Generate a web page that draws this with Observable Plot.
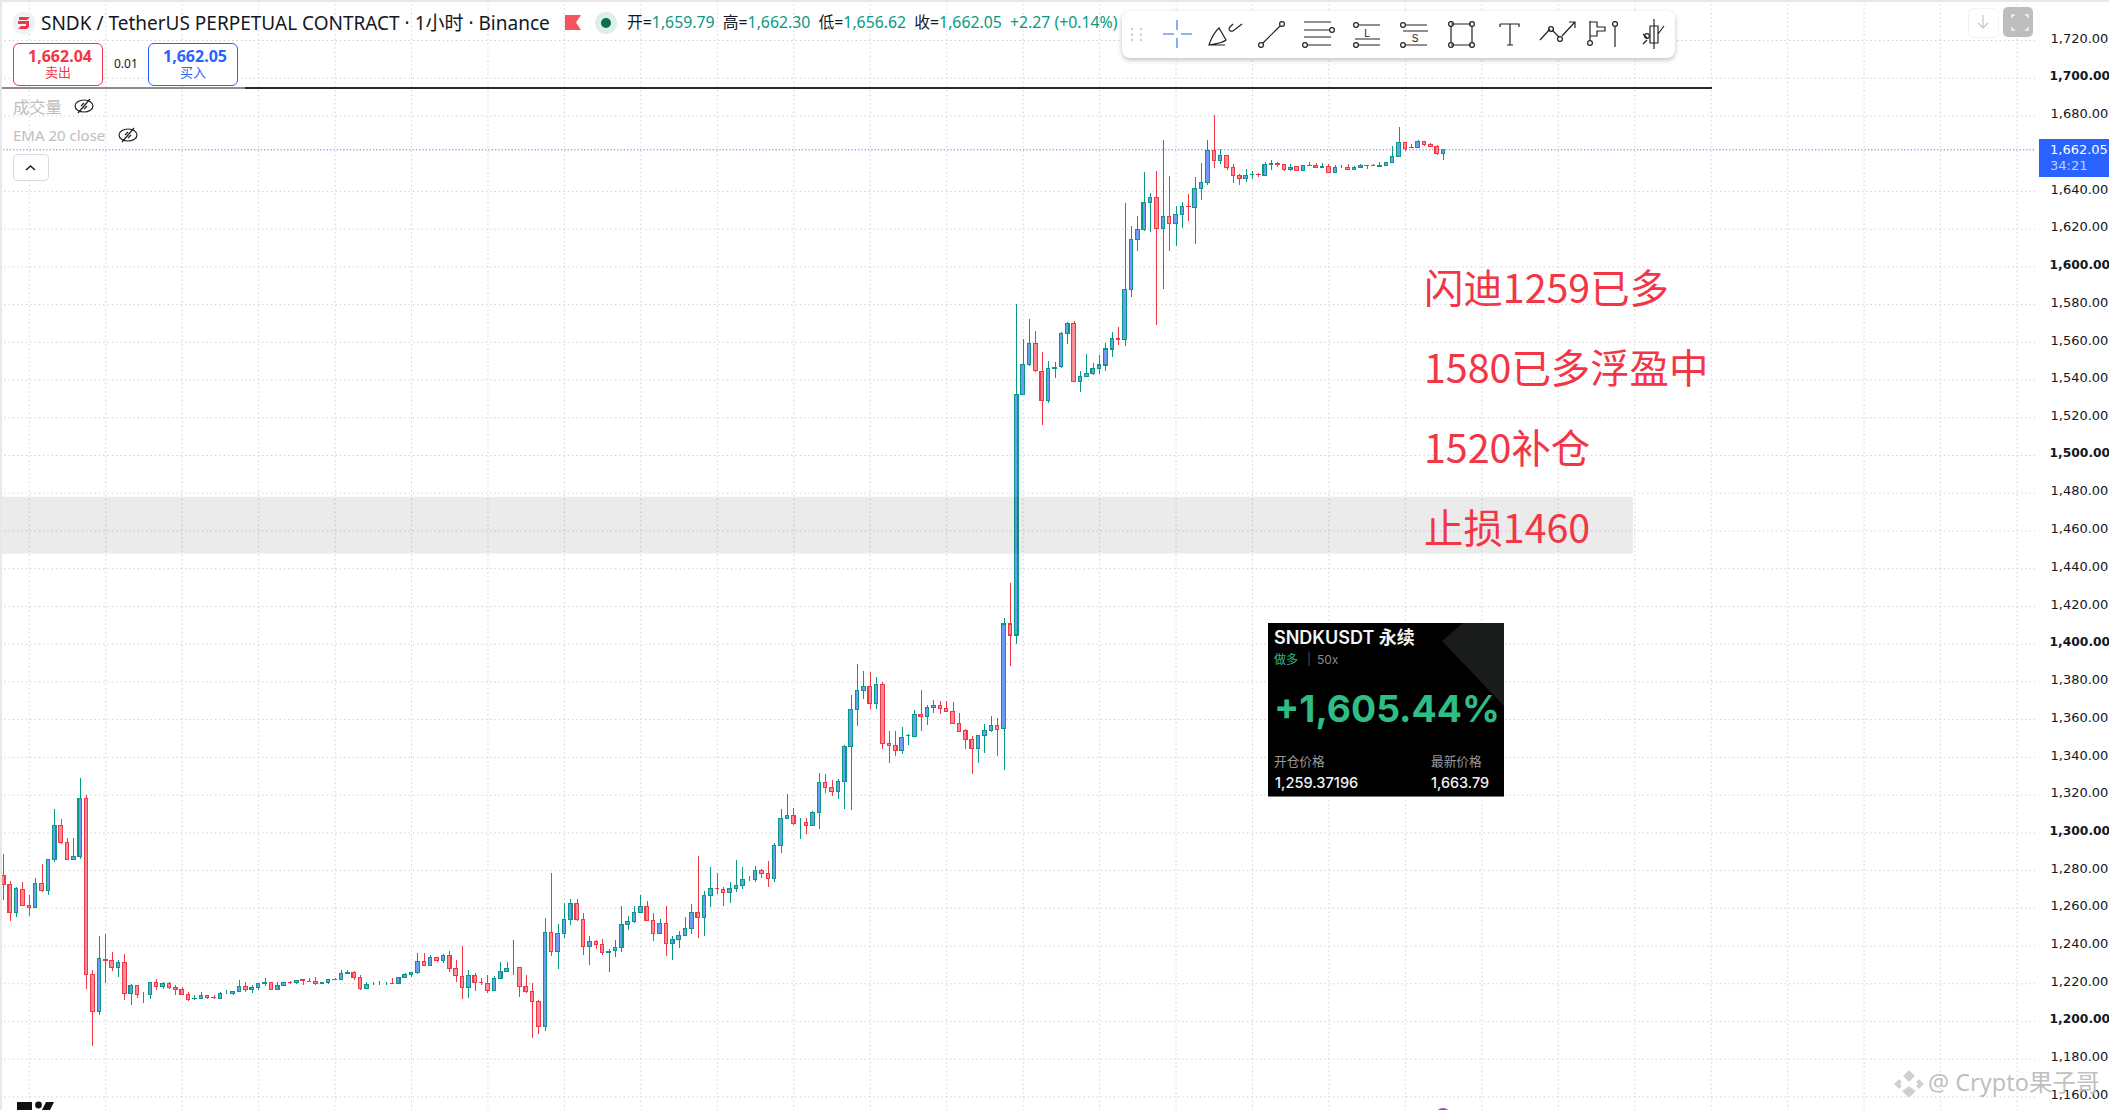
<!DOCTYPE html>
<html lang="zh">
<head>
<meta charset="utf-8">
<script src="https://cdn.jsdelivr.net/npm/d3@7"></script>
<script src="https://cdn.jsdelivr.net/npm/@observablehq/plot@0.6"></script>
<style>
html,body{margin:0;padding:0;background:#fff;width:2109px;height:1110px;overflow:hidden}
#chart,#ui,.t{position:absolute}
#chart{left:0;top:0}
#ui{left:0;top:0;width:2109px;height:1110px;pointer-events:none}
.t{white-space:nowrap;font-family:"Noto Sans","Noto Sans CJK SC",sans-serif;line-height:1}
.note{font-family:"Noto Sans CJK SC",sans-serif;font-size:39.4px;color:#f23645}
</style>
</head>
<body>
<div id="chart"></div>
<div id="ui"></div>
<script>
const opens=[1276.9,1272.3,1257.5,1269.6,1261.2,1260.1,1272.8,1269.1,1285.6,1303.6,
1294.6,1285.6,1287.1,1317.9,1224.6,1205.0,1232.5,1232.0,1228.3,1231.0,
1214.5,1218.8,1214.0,1214.0,1220.4,1218.2,1219.8,1217.7,1216.6,1214.0,
1211.7,1211.9,1213.5,1212.6,1211.9,1214.5,1214.5,1215.6,1218.2,1216.6,
1217.7,1220.0,1220.4,1216.6,1218.8,1220.5,1220.4,1221.8,1220.9,1220.9,
1219.8,1220.4,1221.9,1221.9,1225.1,
1225.8,1223.1,1217.3,1219.9,1219.9,1219.9,1219.9,1219.9,1223.1,1224.7,
1225.8,1231.6,1229.5,1233.7,1232.1,1234.8,1227.9,1223.6,1217.8,1224.2,
1220.6,1219.9,1216.2,1222.6,1226.3,1228.4,1228.4,1218.3,1215.7,1210.4,
1197.1,1247.0,1236.9,1246.4,1253.8,1262.3,1253.8,1239.5,1242.2,1240.6,
1236.5,1237.4,1239.0,1251.2,1252.8,1257.6,1260.7,1253.3,1246.4,1251.7,
1241.1,1243.3,1245.4,1249.1,1257.6,
1254.9,1266.6,1270.4,1269.7,1268.2,1270.3,1271.9,1275.0,1275.0,1279.8,
1278.2,1275.6,1293.1,1307.4,1309.0,1305.3,1305.3,1303.7,1310.6,1326.5,
1323.8,1321.7,1327.0,1345.5,1365.2,1375.2,1377.3,1368.3,1378.4,1347.1,
1346.1,1343.4,1351.2,1350.8,1362.5,1361.4,1366.2,1367.3,1365.7,1364.1,
1357.7,1354.0,1349.3,1344.5,1351.4,1354.0,1356.7,1355.1,1410.4,1404.6,
1532.3,1548.2,1559.3,1544.5,1529.1,1546.1,1547.1,1564.6,1569.9,1539.2,
1541.8,1543.4,1546.1,1547.7,1556.2,1562.0,1561.4,1587.8,1614.3,1619.6,
1633.9,1636.6,1620.1,1626.5,1622.8,1627.6,1631.8,1631.3,1641.4,1644.5,
1661.5,1656.2,1658.8,1652.5,1648.2,1646.7,1648.7,1648.6,1648.2,1654.1,
1654.6,1654.1,1651.4,1653.0,1650.9,1653.5,1653.5,1652.5,1653.0,1649.8,
1652.5,1652.5,1651.4,1652.5,1653.5,1653.5,1653.0,1653.5,1655.1,1658.3,
1665.7,1662.9,1663.1,1666.3,1664.7,1663.6,1659.79];
const closes=[1272.3,1257.5,1270.2,1261.2,1260.1,1272.8,1269.1,1285.6,1303.6,1294.6,
1285.6,1287.1,1317.9,1224.6,1205.0,1233.1,1232.0,1228.3,1231.0,1214.5,
1218.8,1214.0,1214.0,1220.4,1218.2,1219.8,1217.7,1216.6,1214.0,1211.3,
1211.9,1213.5,1212.4,1212.4,1214.5,1214.5,1215.6,1218.2,1216.6,1217.7,
1219.8,1220.4,1216.6,1218.8,1220.4,1220.4,1221.4,1221.6,1220.7,1219.8,
1220.4,1221.9,1221.8,1225.1,1225.7,
1223.1,1217.3,1219.4,1219.9,1219.9,1219.9,1219.8,1223.1,1224.7,1225.8,
1231.6,1229.5,1233.7,1232.1,1234.8,1227.9,1224.2,1217.8,1224.2,1220.5,
1220.5,1216.2,1222.6,1226.3,1227.9,1228.4,1218.3,1215.7,1210.4,1197.1,
1247.0,1236.9,1246.4,1253.8,1262.3,1253.8,1239.5,1242.2,1240.6,1236.4,
1236.7,1239.0,1251.2,1252.8,1257.6,1260.7,1253.3,1246.4,1251.7,1241.1,
1243.3,1245.4,1249.1,1257.6,1254.9,
1266.6,1270.3,1270.3,1268.2,1270.3,1271.9,1275.0,1275.0,1279.8,1278.2,
1275.6,1293.1,1307.4,1309.0,1304.7,1305.3,1303.7,1310.6,1326.5,1323.8,
1321.7,1327.0,1345.5,1365.2,1375.2,1377.3,1368.3,1378.4,1347.1,1346.1,
1343.4,1350.3,1351.4,1362.5,1361.4,1366.2,1367.3,1365.7,1364.1,1357.7,
1353.5,1349.3,1344.5,1351.4,1354.0,1356.7,1354.6,1410.4,1404.6,1532.3,
1548.2,1559.3,1545.0,1529.1,1546.1,1546.4,1564.6,1569.9,1539.2,1541.8,
1543.4,1546.1,1547.7,1556.2,1562.0,1561.4,1587.8,1614.3,1619.6,1633.9,
1636.6,1620.1,1626.5,1622.8,1627.6,1631.8,1631.6,1641.4,1644.5,1661.5,
1656.2,1658.8,1652.5,1648.2,1646.7,1648.2,1648.8,1648.5,1654.1,1654.6,
1654.1,1651.4,1652.5,1650.9,1653.5,1653.4,1652.5,1652.8,1649.8,1652.5,
1652.5,1651.4,1652.5,1653.5,1653.4,1653.4,1653.5,1655.1,1658.3,1665.7,
1662.6,1663.1,1666.3,1664.7,1663.6,1659.9,1662.05];
const highs=[1288.7,1274.4,1271.2,1273.4,1267.0,1276.0,1283.1,1286.1,1312.1,1306.8,
1297.2,1297.2,1329.0,1319.6,1227.2,1245.3,1246.3,1236.8,1232.5,1235.7,
1219.8,1219.3,1215.6,1220.4,1222.5,1220.9,1220.9,1218.8,1218.2,1215.6,
1213.5,1215.1,1214.0,1213.5,1215.6,1216.6,1216.1,1221.9,1220.4,1218.8,
1219.8,1223.0,1220.9,1220.4,1220.4,1221.1,1221.4,1222.5,1223.0,1223.5,
1220.9,1222.5,1223.0,1227.2,1227.2,
1226.3,1224.2,1220.5,1220.6,1221.0,1220.6,1222.9,1223.1,1225.2,1225.8,
1235.8,1235.8,1234.8,1233.7,1235.3,1236.9,1232.1,1239.7,1226.8,1225.2,
1222.6,1224.2,1223.6,1231.0,1231.0,1242.7,1228.4,1224.2,1219.9,1210.9,
1254.4,1278.2,1251.2,1262.3,1264.4,1264.4,1257.0,1244.8,1242.7,1243.3,
1238.0,1242.7,1260.7,1255.4,1260.7,1266.6,1263.4,1257.0,1253.8,1260.7,
1244.8,1247.5,1254.9,1261.8,1287.2,
1268.7,1281.4,1278.2,1270.8,1273.4,1285.1,1281.4,1276.6,1281.9,1280.3,
1284.6,1294.1,1312.1,1320.1,1312.7,1307.4,1307.4,1311.1,1331.2,1330.7,
1327.5,1328.1,1346.1,1372.6,1389.0,1385.3,1384.8,1382.1,1379.5,1353.5,
1353.5,1355.6,1351.9,1364.6,1375.2,1367.3,1370.4,1369.4,1369.4,1368.9,
1363.0,1354.5,1350.8,1351.4,1357.2,1361.4,1360.4,1413.6,1432.1,1580.0,
1561.5,1572.1,1565.7,1554.6,1549.8,1549.2,1565.2,1570.5,1571.0,1544.5,
1553.5,1548.7,1553.0,1559.3,1565.2,1567.8,1633.4,1621.2,1626.5,1649.8,
1638.7,1650.4,1666.8,1647.7,1631.8,1633.9,1638.2,1647.2,1654.6,1666.8,
1680.0,1662.0,1658.8,1654.1,1648.8,1651.4,1650.4,1649.7,1655.1,1656.2,
1655.1,1654.1,1654.1,1653.0,1653.5,1655.1,1654.6,1654.6,1654.1,1653.5,
1653.5,1654.1,1653.0,1654.1,1653.5,1654.1,1655.1,1655.1,1663.6,1673.7,
1665.7,1664.7,1666.8,1666.3,1665.2,1664.1,1662.30];
const lows=[1264.0,1253.0,1255.2,1261.2,1255.7,1260.1,1268.4,1266.8,1284.3,1294.0,
1285.6,1285.6,1285.6,1216.8,1186.8,1203.0,1220.2,1226.5,1223.4,1211.0,
1208.5,1212.4,1209.6,1211.7,1216.5,1217.0,1217.2,1213.8,1214.0,1210.6,
1211.2,1211.7,1211.7,1211.7,1211.7,1214.5,1213.8,1215.6,1215.6,1214.9,
1216.5,1218.6,1216.5,1216.5,1218.8,1219.8,1219.8,1219.1,1220.4,1219.1,
1219.8,1219.8,1221.8,1221.9,1225.1,
1221.9,1216.6,1217.1,1218.9,1218.9,1218.9,1219.8,1219.9,1223.1,1223.5,
1225.0,1229.5,1229.5,1231.0,1230.5,1225.8,1220.8,1211.8,1212.3,1216.0,
1218.9,1215.0,1216.2,1222.0,1225.8,1224.3,1212.9,1215.0,1191.1,1193.2,
1194.8,1234.6,1227.7,1244.0,1251.0,1253.1,1235.1,1229.8,1238.3,1235.1,
1226.1,1234.1,1236.7,1248.4,1252.1,1257.6,1253.3,1242.5,1246.4,1234.6,
1232.5,1238.8,1245.4,1246.3,1244.1,
1245.2,1260.6,1267.3,1261.1,1262.7,1268.5,1270.1,1274.0,1273.8,1275.9,
1271.2,1273.8,1289.2,1307.4,1303.7,1296.6,1299.2,1303.7,1301.9,1321.0,
1319.4,1317.8,1312.5,1312.0,1356.5,1370.8,1365.5,1365.5,1344.3,1336.9,
1340.6,1341.7,1346.4,1350.3,1353.8,1357.0,1363.4,1362.9,1363.6,1357.7,
1353.0,1344.3,1331.0,1336.9,1342.2,1353.0,1340.6,1333.2,1388.0,1399.6,
1532.3,1547.0,1543.8,1515.7,1527.4,1540.6,1546.1,1558.8,1538.5,1533.2,
1541.8,1542.2,1542.7,1544.8,1551.7,1558.1,1557.6,1583.8,1608.3,1618.9,
1618.4,1569.1,1588.2,1608.3,1611.0,1620.5,1624.2,1612.0,1635.3,1643.3,
1652.3,1654.4,1650.9,1644.4,1643.1,1644.9,1646.5,1647.5,1648.2,1651.2,
1652.6,1650.7,1650.7,1650.9,1650.9,1653.0,1652.1,1651.9,1649.8,1649.8,
1652.1,1651.1,1651.2,1652.3,1651.8,1653.0,1653.0,1653.5,1655.1,1658.3,
1661.0,1662.6,1663.1,1663.6,1663.1,1658.8,1656.62];

const minorTicks=[1160,1180,1220,1240,1260,1280,1320,1340,1360,1380,1420,1440,1460,1480,1520,1540,1560,1580,1620,1640,1680,1720];
const majorTicks=[1200,1300,1400,1500,1600,1700];
const gridCandles=[4,16,28,40,52,64,76,88,100,112,124,136,148,160,172,184,196,208,220,232,244,256,268,280,292,304,316];
const lastPrice=[1662.05];
const stopBandLow=1447.7, stopBandHigh=1477.9, bandEndCandle=255.8, bandStartCandle=-0.6;
const xDomain=[-0.518,318.9], yDomain=[1152.8,1741.2];

const candles=opens.map((o,i)=>({i,open:o,close:closes[i],high:highs[i],low:lows[i]}));
const up=candles.filter(d=>d.close>=d.open), down=candles.filter(d=>d.close<d.open);
const GREEN="#089981",RED="#f23645",BLUE_FILL="#6c9cf5",PINK_FILL="#f98c95",GRID="#cfcfcf";
const halfBody=0.27;
const body=(data,fill,stroke)=>Plot.rect(data,{x1:d=>d.i-halfBody,x2:d=>d.i+halfBody,y1:"open",y2:"close",fill,stroke,strokeWidth:1.1,shapeRendering:"crispEdges"});
const wick=(data,stroke)=>Plot.ruleX(data,{x:"i",y1:"low",y2:"high",stroke,strokeWidth:1,shapeRendering:"crispEdges"});
const axisOpts={anchor:"right",tickSize:0,tickPadding:15,label:null,tickFormat:d3.format(",.2f"),fontSize:13,fill:"#131722",dy:-2};

const chart=Plot.plot({
  width:2109,height:1110,
  marginTop:0,marginBottom:0,marginLeft:0,marginRight:74,
  x:{domain:xDomain,axis:null},
  y:{domain:yDomain},
  style:{fontFamily:"'DejaVu Sans',sans-serif",background:"transparent",overflow:"hidden"},
  marks:[
    Plot.ruleY([...minorTicks,...majorTicks],{stroke:GRID,strokeDasharray:"1.4 2.9",strokeWidth:1}),
    Plot.ruleX(gridCandles,{stroke:GRID,strokeDasharray:"1.4 2.9",strokeWidth:1}),
    Plot.ruleY(lastPrice,{stroke:"#5b7ff0",strokeDasharray:"1.3 2",strokeWidth:1}),
    wick(up,GREEN),wick(down,RED),
    body(up,BLUE_FILL,GREEN),body(down,PINK_FILL,RED),
    Plot.rect([{}],{x1:()=>bandStartCandle,x2:()=>bandEndCandle,y1:()=>stopBandLow,y2:()=>stopBandHigh,fill:"#000",fillOpacity:0.078}),
    Plot.axisY(minorTicks,axisOpts),
    Plot.axisY(majorTicks,{...axisOpts,fontWeight:"bold",fontSize:12.3,tickPadding:14})
  ]
});
document.getElementById("chart").appendChild(chart);

const ui=document.getElementById("ui");
function T(txt,left,top,css){const s=document.createElement("span");s.className="t";s.innerHTML=txt;s.style.cssText=`left:${left}px;top:${top}px;${css||""}`;ui.appendChild(s);return s;}

ui.insertAdjacentHTML("beforeend",`
<div style="position:absolute;left:0;top:0;width:2109px;height:2px;background:#e8e8e8"></div>
<div style="position:absolute;left:0;top:0;width:2px;height:1110px;background:#e8e8e8"></div>
<div style="position:absolute;left:2px;top:87px;width:1710px;height:2px;background:#2a2a2a"></div>
<div style="position:absolute;left:2px;top:87px;width:243px;height:2px;background:#8c8c8c"></div>
<div style="position:absolute;left:13px;top:43px;width:88px;height:41px;border:1px solid #f23645;border-radius:6px;background:#fff"></div>
<div style="position:absolute;left:148px;top:43px;width:88px;height:41px;border:1px solid #2962ff;border-radius:6px;background:#fff"></div>
<div style="position:absolute;left:13px;top:154px;width:34px;height:25px;border:1px solid #dcdcdc;border-radius:4px;background:#fff"></div>
<div style="position:absolute;left:1122px;top:11px;width:553px;height:47px;border-radius:8px;background:#fff;box-shadow:0 2px 5px rgba(0,0,0,.25)"></div>
<div style="position:absolute;left:1968px;top:8px;width:29px;height:28px;border:1px solid #f3f3f3;border-radius:5px"></div>
<div style="position:absolute;left:2003px;top:7px;width:30px;height:30px;border-radius:5px;background:#bdbdbd"></div>
<div style="position:absolute;left:2039px;top:139px;width:70px;height:38px;background:#2962ff"></div>
`);
ui.insertAdjacentHTML("beforeend",`
<svg style="position:absolute;left:0;top:0" width="2109" height="1110" fill="none" stroke="#222" stroke-width="1.2">
  <circle cx="24" cy="23" r="11.5" fill="#f0f3f5" stroke="none"/>
  <path d="M19 17h11l-3 3h-8zM18 21h11v6l-2 2H18l3-3h5v-2h-8z" fill="#f23645" stroke="none"/>
  <path d="M565 15h16l-5 7.5 5 7.5h-16z" fill="#f7525f" stroke="none"/>
  <circle cx="606" cy="23" r="11" fill="#dcefe9" stroke="none"/><circle cx="606" cy="23" r="5" fill="#0f6e50" stroke="none"/>
  <g stroke="#222"><ellipse cx="84" cy="106" rx="9" ry="6"/><path d="M78 113l12-14M81 106l3-3M84 109l3-3"/><ellipse cx="128" cy="135" rx="9" ry="6"/><path d="M122 142l12-14M125 135l3-3M128 138l3-3"/></g>
  <path d="M26 170l4.5-4 4.5 4" stroke="#222" stroke-width="1.6"/>
  <g fill="#cdcdcd" stroke="none"><circle cx="1132" cy="29" r="1.2"/><circle cx="1141" cy="29" r="1.2"/><circle cx="1132" cy="34.5" r="1.2"/><circle cx="1141" cy="34.5" r="1.2"/><circle cx="1132" cy="40" r="1.2"/><circle cx="1141" cy="40" r="1.2"/></g>
  <path d="M1177 20v10M1177 38v10M1163 34h11M1181 34h11" stroke="#6d97f7" stroke-width="1.6"/>
  <path d="M1209 45q14-2 17-5l-7-12q-6 5-10 17zM1209 45h16M1229 28q0 4 4 3l9-7M1229 28l4-4"/>
  <circle cx="1261" cy="45" r="2.4"/><circle cx="1282" cy="24" r="2.4"/><path d="M1263 43l17-17"/>
  <path d="M1304 22h27M1304 30h25M1304 37h27M1308 45h23"/><circle cx="1332" cy="30" r="2.4"/><circle cx="1305" cy="45" r="2.4"/>
  <path d="M1358 25h22M1355 39h25M1358 45h22"/><circle cx="1356" cy="25" r="2.4"/><circle cx="1356" cy="45" r="2.4"/>
  <path d="M1405 25h22M1403 31h25M1405 45h22"/><circle cx="1403" cy="25" r="2.4"/><circle cx="1403" cy="45" r="2.4"/>
  <text x="1367" y="37" text-anchor="middle" font-size="10" font-family="Liberation Sans" fill="#222" stroke="none">L</text>
  <text x="1415" y="42" text-anchor="middle" font-size="10" font-family="Liberation Sans" fill="#222" stroke="none">S</text>
  <path d="M1451 24h20M1451 45h20M1451 26v17M1472 26v17"/><circle cx="1451" cy="24" r="2.4"/><circle cx="1472" cy="24" r="2.4"/><circle cx="1451" cy="45" r="2.4"/><circle cx="1472" cy="45" r="2.4"/>
  <path d="M1500 24v3M1500 24h19v3M1510 24v21M1507 45h6"/><path d="M1540 40l10-11M1552 30l7 7M1562 36l13-14M1569 22h6v6"/><circle cx="1551" cy="29" r="2.4"/><circle cx="1560" cy="39" r="2.4"/>
  <path d="M1590 21v19M1590 22h7v5h8v4h-8v5h-7"/><circle cx="1590" cy="43" r="2.4"/><path d="M1615 27v20"/><circle cx="1615" cy="24" r="2.4"/>
  <path d="M1654 19v30M1650 26h8v17h-8zM1643 34l4 4M1658 34l6-8"/><circle cx="1647" cy="36" r="2.4"/><path d="M1643 44l4-4"/>
  <path d="M1983 15v12M1978 23l5 5 5-5" stroke="#c4c4c4"/>
  <path d="M2012 18v-3h3M2025 15h3v3M2028 27v3h-3M2015 30h-3v-3" stroke="#f5f5f5" stroke-width="1.4"/>
  <path d="M17 1102h15v8H17z" fill="#111" stroke="none"/><circle cx="38.5" cy="1105" r="3.4" fill="#111" stroke="none"/><path d="M46 1102h8l-4 8h-8z" fill="#111" stroke="none"/>
  <circle cx="1443" cy="1116" r="8" fill="#a24bc4" stroke="none"/>
</svg>`);

T("SNDK / TetherUS PERPETUAL CONTRACT · 1小时 · Binance",41,14,"font-size:19px;color:#131722");
const R=s=>`<span style="color:#089981">${s}</span>`;
T(`开=${R("1,659.79")}&nbsp; 高=${R("1,662.30")}&nbsp; 低=${R("1,656.62")}&nbsp; 收=${R("1,662.05")}&nbsp; ${R("+2.27 (+0.14%)")}`,627,15,"font-size:15.8px;color:#131722");
T("1,662.04",28,48,"font-size:16px;font-weight:700;color:#f23645");
T("卖出",45,66,"font-size:13px;color:#f23645");
T("0.01",114,58,"font-size:12px;color:#131722");
T("1,662.05",163,48,"font-size:16px;font-weight:700;color:#2962ff");
T("买入",180,66,"font-size:13px;color:#2962ff");
T("成交量",13,99,"font-size:16.3px;color:#bdbdbd");
T("EMA 20 close",13,128,"font-size:15px;color:#bdbdbd");
T("1,662.05",2050,143,"font-size:13px;font-family:'DejaVu Sans';color:#fff;font-weight:500");
T("34:21",2050,159,"font-size:13px;font-family:'DejaVu Sans';color:#bcd0ff");

for(const [txt,top] of [["闪迪1259已多",285.5],["1580已多浮盈中",366],["1520补仓",445.5],["止损1460",525.5]]){
  const s=T(txt,1424,top,"");s.classList.add("note");s.style.transform="translateY(-50%)";
}

ui.insertAdjacentHTML("beforeend",`<div style="position:absolute;left:1268px;top:623px;width:236px;height:174px;background:#000;overflow:hidden;border-bottom:1px solid #777;box-sizing:border-box">
<div style="position:absolute;left:0;top:0;width:236px;height:174px;background:#1a1c1c;clip-path:polygon(174px 18px,195px 0,236px 0,236px 83px)"></div></div>`);
const cs="font-family:Inter,'Noto Sans CJK SC',sans-serif;";
T("SNDKUSDT 永续",1274,629,cs+"font-size:18px;font-weight:600;color:#f4f4f4");
T("做多",1274,654,cs+"font-size:12px;color:#2ebd85");
T("|",1307,653,cs+"font-size:12px;color:#555");
T("50x",1317,654,cs+"font-size:12px;color:#8a8a8a");
T("+1,605.44%",1274,690,cs+"font-size:37.3px;font-weight:700;color:#2ebd85");
T("开仓价格",1274,756,cs+"font-size:12.7px;color:#9a9a9a");
T("最新价格",1431,756,cs+"font-size:12.7px;color:#9a9a9a");
T("1,259.37196",1275,776,cs+"font-size:14.6px;font-weight:500;color:#f2f2f2");
T("1,663.79",1431,776,cs+"font-size:14.4px;font-weight:500;color:#f2f2f2");

ui.insertAdjacentHTML("beforeend",`<svg style="position:absolute;left:1892px;top:1068px" width="34" height="32"><path d="M17 2l6 6-6 6-6-6zM7 11l-5 5 5 5 3-3-2-2 2-2zM27 11l5 5-5 5-3-3 2-2-2-2zM17 18l7 5-7 7-7-7z" fill="#cfcfcf" stroke="#eee" stroke-width="1"/></svg>`);
T("@ Crypto果子哥",1928,1071,"font-size:23.5px;color:rgba(135,135,135,.55);text-shadow:0 0 1px #fff");
</script>
</body>
</html>
